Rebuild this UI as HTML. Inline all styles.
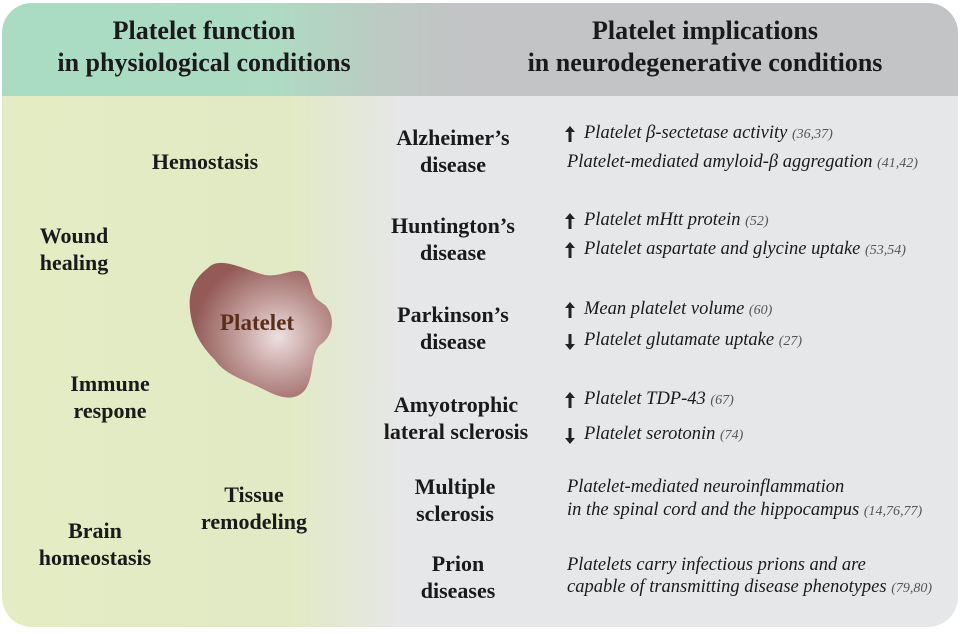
<!DOCTYPE html>
<html><head><meta charset="utf-8"><style>
body{margin:0;width:961px;height:634px;background:#fff;position:relative;overflow:hidden;font-family:"Liberation Serif",serif;}
#panel{position:absolute;left:2px;top:3px;width:956px;height:624px;border-radius:30px;overflow:hidden;
background:linear-gradient(90deg,#e3ecc3 0%,#e2eac5 30%,#e4e7dc 38%,#e6e7e8 42%,#e6e7e8 100%);}
#hdr{position:absolute;left:0;top:0;width:956px;height:93px;
background:linear-gradient(90deg,#a9dcc3 0%,#addbc3 28%,#bccac3 40%,#c3c4c6 48%,#c3c4c6 100%);}
.t{position:absolute;white-space:nowrap;color:#1a1a1a;}
.h{font-weight:bold;font-size:26px;text-align:center;line-height:32px;transform:translateX(-50%);}
.b{font-weight:bold;font-size:22px;text-align:center;line-height:27px;transform:translateX(-50%);}
.i{font-style:italic;font-size:18.5px;line-height:22px;}
.i small{font-size:14px;color:#555;}
svg.a{position:absolute;}
</style></head><body>
<div id="panel"><div id="hdr"></div></div>
<div class="t h" style="left:204px;top:15px">Platelet function<br>in physiological conditions</div>
<div class="t h" style="left:705px;top:15px">Platelet implications<br>in neurodegenerative conditions</div>

<div class="t b" style="left:205px;top:148px">Hemostasis</div>
<div class="t b" style="left:74px;top:222px">Wound<br>healing</div>
<div class="t b" style="left:110px;top:370px">Immune<br>respone</div>
<div class="t b" style="left:254px;top:481px">Tissue<br>remodeling</div>
<div class="t b" style="left:95px;top:517px">Brain<br>homeostasis</div>

<svg style="position:absolute;left:170px;top:250px" width="180" height="160">
<defs><radialGradient id="g" cx="0.62" cy="0.55" r="0.6">
<stop offset="0" stop-color="#eee0e0"/><stop offset="0.45" stop-color="#c4a09e"/><stop offset="1" stop-color="#935a56"/></radialGradient></defs>
<path d="M38,18 C50,5 75,20 95,25 C115,28 130,12 138,28 C145,45 140,45 155,55 C165,65 165,85 150,95 C140,105 145,125 135,140 C125,152 110,148 95,140 C75,130 55,125 45,110 C30,95 22,80 20,60 C18,40 25,28 38,18 Z" fill="url(#g)"/>
</svg>
<div class="t" style="left:220px;top:310px;font-weight:bold;font-size:23px;color:#5a2e1a">Platelet</div>

<div class="t b" style="left:453px;top:124px">Alzheimer’s<br>disease</div>
<div class="t b" style="left:453px;top:212px">Huntington’s<br>disease</div>
<div class="t b" style="left:453px;top:301px">Parkinson’s<br>disease</div>
<div class="t b" style="left:456px;top:391px">Amyotrophic<br>lateral sclerosis</div>
<div class="t b" style="left:455px;top:473px">Multiple<br>sclerosis</div>
<div class="t b" style="left:458px;top:550px">Prion<br>diseases</div>

<svg class="a" style="left:564px;top:125px" width="12" height="18"><path d="M6,1 L11,7 L7.5,7 L7.5,17 L4.5,17 L4.5,7 L1,7Z" fill="#222"/></svg>
<div class="t i" style="left:584px;top:122px">Platelet β-sectetase activity <small>(36,37)</small></div>
<div class="t i" style="left:567px;top:151px">Platelet-mediated amyloid-β aggregation <small>(41,42)</small></div>

<svg class="a" style="left:564px;top:212px" width="12" height="18"><path d="M6,1 L11,7 L7.5,7 L7.5,17 L4.5,17 L4.5,7 L1,7Z" fill="#222"/></svg>
<div class="t i" style="left:584px;top:209px">Platelet mHtt protein <small>(52)</small></div>
<svg class="a" style="left:564px;top:241px" width="12" height="18"><path d="M6,1 L11,7 L7.5,7 L7.5,17 L4.5,17 L4.5,7 L1,7Z" fill="#222"/></svg>
<div class="t i" style="left:584px;top:238px">Platelet aspartate and glycine uptake <small>(53,54)</small></div>

<svg class="a" style="left:564px;top:301px" width="12" height="18"><path d="M6,1 L11,7 L7.5,7 L7.5,17 L4.5,17 L4.5,7 L1,7Z" fill="#222"/></svg>
<div class="t i" style="left:584px;top:298px">Mean platelet volume <small>(60)</small></div>
<svg class="a" style="left:564px;top:333px" width="12" height="18"><path d="M6,17 L11,11 L7.5,11 L7.5,1 L4.5,1 L4.5,11 L1,11Z" fill="#222"/></svg>
<div class="t i" style="left:584px;top:329px">Platelet glutamate uptake <small>(27)</small></div>

<svg class="a" style="left:564px;top:391px" width="12" height="18"><path d="M6,1 L11,7 L7.5,7 L7.5,17 L4.5,17 L4.5,7 L1,7Z" fill="#222"/></svg>
<div class="t i" style="left:584px;top:388px">Platelet TDP-43 <small>(67)</small></div>
<svg class="a" style="left:564px;top:427px" width="12" height="18"><path d="M6,17 L11,11 L7.5,11 L7.5,1 L4.5,1 L4.5,11 L1,11Z" fill="#222"/></svg>
<div class="t i" style="left:584px;top:423px">Platelet serotonin <small>(74)</small></div>

<div class="t i" style="left:567px;top:476px">Platelet-mediated neuroinflammation</div>
<div class="t i" style="left:567px;top:499px">in the spinal cord and the hippocampus <small>(14,76,77)</small></div>

<div class="t i" style="left:567px;top:554px">Platelets carry infectious prions and are</div>
<div class="t i" style="left:567px;top:576px">capable of transmitting disease phenotypes <small>(79,80)</small></div>
</body></html>
